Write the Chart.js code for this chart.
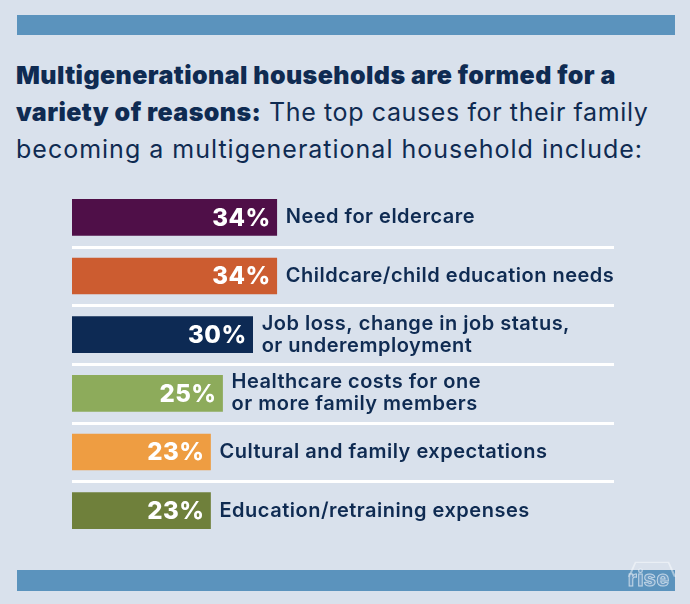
<!DOCTYPE html>
<html>
<head>
<meta charset="utf-8">
<script src="https://cdn.jsdelivr.net/npm/chart.js@4.4.1/dist/chart.umd.min.js"></script>
<style>
  html, body { margin: 0; padding: 0; }
  body { width: 690px; height: 604px; background: #d9e1ec; position: relative; overflow: hidden; font-family: Inter, "Noto Sans", sans-serif; }
  .stripe { position: absolute; left: 17px; width: 658px; background: #5b93bd; }
  #title { position: absolute; left: 16px; top: 57px; width: 680px; font-size: 25px; line-height: 37px; color: #0f2b52; white-space: nowrap; }
  #title b { font-weight: 900; letter-spacing: 0.42px; }
  #title .r { letter-spacing: 1px; }
  #title .r2 { letter-spacing: 0.62px; }
  #logo { position: absolute; left: 624px; top: 558px; width: 54px; height: 34px; }
  #logo .roof { position: absolute; left: 8px; top: 2px; width: 36px; height: 14px; border-top: 2px solid rgba(255,255,255,0.45); border-left: 2px solid rgba(255,255,255,0.45); border-right: 2px solid rgba(255,255,255,0.45); transform: perspective(20px) rotateX(25deg); }
  #logo span { position: absolute; left: 4px; top: 8px; font: 800 21px Inter, sans-serif; color: rgba(120,160,200,0.6); -webkit-text-stroke: 1px rgba(255,255,255,0.6); letter-spacing: 0.5px; }
  #wrap { position: absolute; left: 0; top: 0; width: 690px; height: 604px; }
</style>
</head>
<body>
<div class="stripe" style="top:15px;height:20px"></div>
<div class="stripe" style="top:570px;height:21px"></div>
<div id="title"><b>Multigenerational households are formed for a</b><br><b>variety of reasons:</b><span class="r2"> The top causes for their family</span><br><span class="r">becoming a multigenerational household include:</span></div>
<div id="wrap"><canvas id="chart1" width="690" height="604"></canvas></div>
<div id="logo"><div class="roof"></div><span>rise</span></div>
<script>
const categories = [
  ['Need for eldercare'],
  ['Childcare/child education needs'],
  ['Job loss, change in job status,', 'or underemployment'],
  ['Healthcare costs for one', 'or more family members'],
  ['Cultural and family expectations'],
  ['Education/retraining expenses']
];
const values = [34, 34, 30, 25, 23, 23];
const barColors = ['#4f0f48', '#cc5c30', '#0d2a54', '#8dab5b', '#ee9d42', '#6f803b'];

let ctx = document.getElementById('chart1').getContext('2d');

// white rules between rows + labels on and beside the bars
const barLabels = {
  id: 'barLabels',
  beforeDatasetsDraw(chart) {
    let c = chart.ctx;
    let y = chart.scales.y;
    let area = chart.chartArea;
    c.save();
    c.fillStyle = '#ffffff';
    for (let i = 0; i < values.length - 1; i++) {
      let mid = (y.getPixelForValue(i) + y.getPixelForValue(i + 1)) / 2;
      c.fillRect(area.left, Math.round(mid) - 1, area.right - area.left, 3);
    }
    c.restore();
  },
  afterDatasetsDraw(chart) {
    let c = chart.ctx;
    let meta = chart.getDatasetMeta(0);
    c.save();
    c.textBaseline = 'middle';
    meta.data.forEach((bar, i) => {
      c.fillStyle = '#ffffff';
      c.textAlign = 'right';
      c.font = '800 24px Inter';
      c.letterSpacing = '0.5px';
      c.fillText(values[i] + '%', bar.x - 6, bar.y + 1);
      c.fillStyle = '#0f2b52';
      c.textAlign = 'left';
      c.font = '600 20px Inter';
      c.letterSpacing = '0.5px';
      let lines = categories[i];
      let lh = 22;
      lines.forEach((t, k) => {
        c.fillText(t, bar.x + 9, bar.y + (k - (lines.length - 1) / 2) * lh);
      });
    });
    c.restore();
  }
};

let myChart = new Chart(ctx, {
  type: 'bar',
  data: {
    labels: categories.map(l => l.join(' ')),
    datasets: [{
      data: values,
      backgroundColor: barColors,
      borderWidth: 0,
      barThickness: 36
    }]
  },
  options: {
    indexAxis: 'y',
    responsive: false,
    animation: false,
    layout: { padding: { left: 72, right: 76, top: 188, bottom: 64 } },
    plugins: { legend: { display: false }, tooltip: { enabled: false } },
    scales: {
      x: { min: 0, max: 90, display: false },
      y: { display: false }
    }
  },
  plugins: [barLabels]
});
</script>
</body>
</html>
